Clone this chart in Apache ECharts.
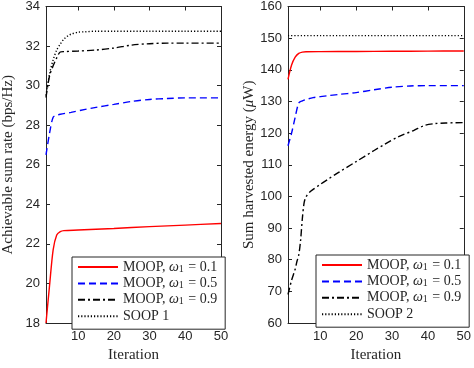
<!DOCTYPE html>
<html>
<head>
    <meta charset="UTF-8">
    <title>MOOP iterations</title>
    <script src="https://cdn.jsdelivr.net/npm/echarts@6.0.0/dist/echarts.min.js"></script>
    <style>
        html, body { margin: 0; padding: 0; background: #fff; }
    </style>
</head>
<body>
<div id="main" style="width: 474px;height: 368px;"></div>

<script type="text/javascript">
    // left panel: achievable sum rate (bps/Hz)
    var rateRedX = [1, 2, 3, 4, 5, 6, 10, 20, 30, 40, 50];
    var rateRedY = [18, 19.9, 21.7, 22.45, 22.62, 22.67, 22.7, 22.78, 22.87, 22.95, 23.03];
    var rateBlueX = [1, 2, 3, 4, 5, 8, 12, 15, 20, 25, 30, 35, 40, 50];
    var rateBlueY = [26.5, 27.6, 28.4, 28.5, 28.55, 28.65, 28.8, 28.9, 29.05, 29.2, 29.3, 29.35, 29.38, 29.38];
    var rateBlackX = [1, 2, 3, 4, 5, 6, 10, 15, 20, 25, 30, 35, 40, 50];
    var rateBlackY = [29.4, 30.5, 31.0, 31.4, 31.7, 31.72, 31.75, 31.8, 31.9, 32.05, 32.12, 32.15, 32.15, 32.15];
    var soop1X = [1, 2, 3, 4, 5, 6, 7, 8, 10, 12, 15, 20, 30, 40, 50];
    var soop1Y = [29.5, 30.6, 31.3, 31.8, 32.1, 32.35, 32.5, 32.6, 32.7, 32.72, 32.75, 32.75, 32.75, 32.75, 32.75];

    // right panel: sum harvested energy (uW)
    var enRedX = [1, 2, 3, 4, 5, 6, 10, 20, 30, 40, 50];
    var enRedY = [137, 141.5, 144, 145.2, 145.6, 145.7, 145.75, 145.8, 145.85, 145.9, 145.95];
    var enBlueX = [1, 2, 3, 4, 5, 6, 8, 12, 15, 20, 25, 30, 35, 40, 50];
    var enBlueY = [116, 120, 125, 129.5, 130.2, 130.6, 131.2, 131.8, 132.2, 132.8, 133.7, 134.5, 134.9, 135, 135];
    var enBlackX = [1, 2, 3, 3.5, 4, 4.5, 5, 5.5, 6, 7, 8, 10, 12, 15, 20, 25, 28, 32, 36, 39, 42, 45, 50];
    var enBlackY = [69, 73.5, 77, 79.5, 81.5, 86, 93, 98, 99.8, 101.3, 102.2, 103.8, 105.3, 107.5, 111, 114.5, 116.5, 119, 120.8, 122.4, 123, 123.2, 123.3];
    var soop2X = [1, 10, 20, 30, 40, 50];
    var soop2Y = [150.8, 150.8, 150.8, 150.8, 150.8, 150.8];

    var xTicks = [10, 20, 30, 40, 50];
    var m1 = 'MOOP, w1 = 0.1';
    var m5 = 'MOOP, w1 = 0.5';
    var m9 = 'MOOP, w1 = 0.9';

    function pairs(xs, ys) {
        return xs.map(function (x, i) { return [x, ys[i]]; });
    }

    var axisColor = '#262626';
    var tickFont = {color: axisColor, fontSize: 13, fontFamily: 'Liberation Sans, Arial, sans-serif'};
    var serif = 'Liberation Serif, DejaVu Serif, serif';

    function xAxes(grid) {
        return [{
            gridIndex: grid, type: 'value', min: 1, max: 50,
            name: 'Iteration', nameLocation: 'middle', nameGap: 25,
            nameTextStyle: {fontFamily: serif, fontSize: 15, color: axisColor},
            axisLine: {lineStyle: {color: axisColor}},
            axisTick: {inside: true, length: 4, customValues: xTicks, lineStyle: {color: axisColor}},
            axisLabel: Object.assign({customValues: xTicks, margin: 7}, tickFont),
            splitLine: {show: false}
        }, {
            gridIndex: grid, type: 'value', min: 1, max: 50, position: 'top',
            axisLine: {lineStyle: {color: axisColor}},
            axisTick: {inside: true, length: 4, customValues: xTicks, lineStyle: {color: axisColor}},
            axisLabel: {show: false},
            splitLine: {show: false}
        }];
    }

    function yAxes(grid, min, max, step, name, rich) {
        return [{
            gridIndex: grid, type: 'value', min: min, max: max, interval: step,
            name: name, nameLocation: 'middle', nameGap: 30,
            nameTextStyle: {fontFamily: serif, fontSize: 15, color: axisColor, rich: rich},
            axisLine: {show: true, lineStyle: {color: axisColor}},
            axisTick: {show: true, inside: true, length: 4, lineStyle: {color: axisColor}},
            axisLabel: Object.assign({margin: 6}, tickFont),
            splitLine: {show: false}
        }, {
            gridIndex: grid, type: 'value', min: min, max: max, interval: step, position: 'right',
            axisLine: {show: true, lineStyle: {color: axisColor}},
            axisTick: {show: true, inside: true, length: 4, lineStyle: {color: axisColor}},
            axisLabel: {show: false},
            splitLine: {show: false}
        }];
    }

    function line(name, xi, yi, data, color, type) {
        return {
            name: name, type: 'line', xAxisIndex: xi, yAxisIndex: yi,
            data: data, showSymbol: false, symbol: 'none', smooth: 0.3,
            lineStyle: {color: color, width: 1.4, type: type},
            itemStyle: {color: color},
            animation: false
        };
    }

    var dashed = [7, 4];
    var dashDot = [7, 3, 2, 3];
    var dotted = [1.2, 2];

    function legendFmt(name) {
        if (name.indexOf('MOOP') === 0) {
            return '{t|MOOP, }{w|ω}{s|1}{t| = ' + name.slice(-3) + '}';
        }
        return '{t|' + name + '}';
    }

    function legend(left, top, last) {
        return {
            show: true,
            left: left, top: top, orient: 'vertical',
            data: [m1, m5, m9, last],
            itemWidth: 40, itemHeight: 14, itemGap: 2.4,
            padding: [3, 8, 6, 5],
            backgroundColor: '#fff', borderColor: axisColor, borderWidth: 1,
            selectedMode: false,
            itemStyle: {opacity: 0, borderWidth: 0},
            formatter: legendFmt,
            textStyle: {
                rich: {
                    t: {fontFamily: serif, fontSize: 14, lineHeight: 14, color: axisColor},
                    w: {fontFamily: serif, fontSize: 14, lineHeight: 14, fontStyle: 'italic', color: axisColor},
                    s: {fontFamily: serif, fontSize: 10, lineHeight: 6, verticalAlign: 'bottom', color: axisColor, padding: [0, 1, 0, 0]}
                }
            }
        };
    }

    var chart = echarts.init(document.getElementById('main'));
    var option = {
        animation: false,
        grid: [
            {left: 43, top: 4, width: 178, height: 325},
            {left: 288, top: 4, width: 179, height: 325}
        ],
        xAxis: xAxes(0).concat(xAxes(1)),
        yAxis: yAxes(0, 18, 34, 2, 'Achievable sum rate (bps/Hz)')
            .concat(yAxes(1, 60, 160, 10, '{a|Sum harvested energy (}{i|μ}{a|W)}', {
                a: {fontFamily: serif, fontSize: 15, color: axisColor},
                i: {fontFamily: serif, fontSize: 15, fontStyle: 'italic', color: axisColor}
            })),
        legend: [legend(72, 257, 'SOOP 1'), legend(316, 255, 'SOOP 2')],
        series: [
            line(m1, 0, 0, pairs(rateRedX, rateRedY), '#ff0000', 'solid'),
            line(m5, 0, 0, pairs(rateBlueX, rateBlueY), '#0000ff', dashed),
            line(m9, 0, 0, pairs(rateBlackX, rateBlackY), '#000000', dashDot),
            line('SOOP 1', 0, 0, pairs(soop1X, soop1Y), '#000000', dotted),
            line(m1, 2, 2, pairs(enRedX, enRedY), '#ff0000', 'solid'),
            line(m5, 2, 2, pairs(enBlueX, enBlueY), '#0000ff', dashed),
            line(m9, 2, 2, pairs(enBlackX, enBlackY), '#000000', dashDot),
            line('SOOP 2', 2, 2, pairs(soop2X, soop2Y), '#000000', dotted)
        ]
    };
    option && chart.setOption(option);
</script>
</body>
</html>
